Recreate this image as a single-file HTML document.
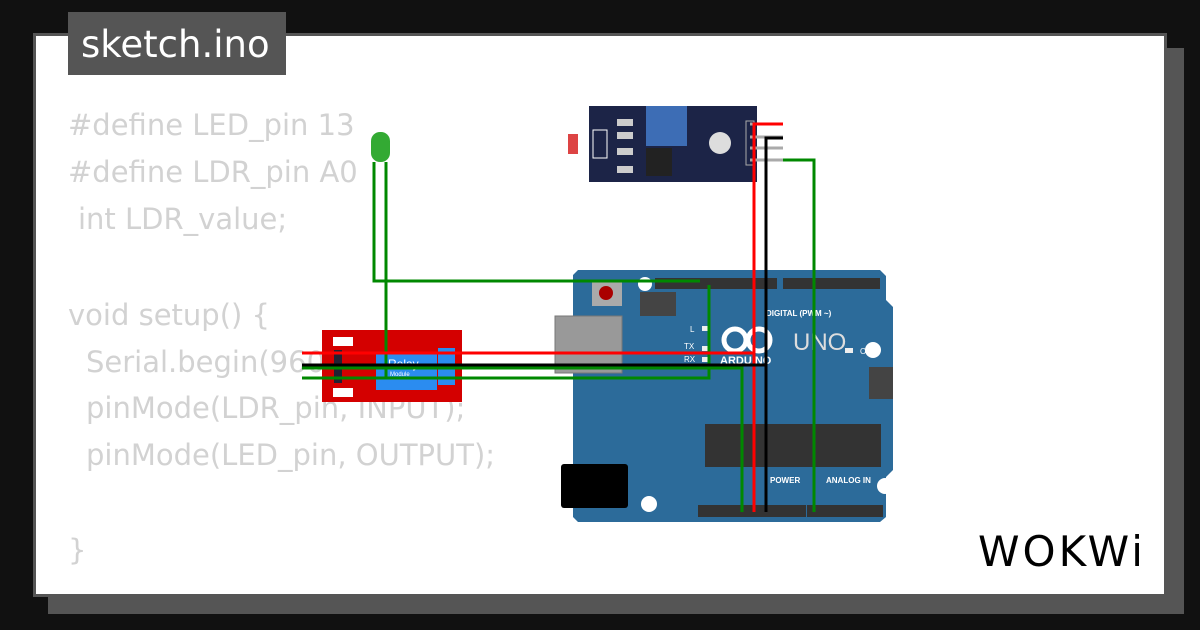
<!DOCTYPE html>
<html><head><meta charset="utf-8"><style>
html,body{margin:0;padding:0;background:#111;width:1200px;height:630px;overflow:hidden;font-family:"Liberation Sans","DejaVu Sans",sans-serif}
</style></head><body>
<svg width="1200" height="630" viewBox="0 0 1200 630" xmlns="http://www.w3.org/2000/svg" font-family="Liberation Sans, DejaVu Sans, sans-serif">
<rect x="0" y="0" width="1200" height="630" fill="#111"/>
<rect x="48" y="48" width="1136" height="566" fill="#555"/>
<rect x="33" y="33" width="1134" height="564" fill="#555"/>
<rect x="36" y="36" width="1128" height="558" fill="#fff"/>
<rect x="68" y="12" width="218" height="63" fill="#555"/>
<text x="81" y="57" font-size="37" fill="#fff" font-family="DejaVu Sans, sans-serif">sketch.ino</text>
<g font-size="29" fill="#d2d2d2" font-family="DejaVu Sans, sans-serif">
<text x="68" y="135">#define LED_pin 13</text>
<text x="68" y="182">#define LDR_pin A0</text>
<text x="78" y="229">int LDR_value;</text>
<text x="68" y="325">void setup() {</text>
<text x="86" y="372">Serial.begin(9600);</text>
<text x="86" y="418">pinMode(LDR_pin, INPUT);</text>
<text x="86" y="465">pinMode(LED_pin, OUTPUT);</text>
<text x="68" y="560">}</text>
</g>
<!-- Arduino -->
<path d="M578 270 H880 L886 276 V300 L893 307 V470 L886 477 V517 L880 522 H578 L573 517 V275 Z" fill="#2c6b9a"/>
<rect x="555" y="316" width="67" height="57" fill="#999" stroke="#777"/>
<rect x="592" y="280" width="30" height="26" fill="#aaa"/>
<circle cx="606" cy="293" r="7" fill="#a00"/>
<circle cx="645" cy="284" r="7" fill="#fff"/>
<circle cx="873" cy="350" r="8" fill="#fff"/>
<circle cx="885" cy="486" r="8" fill="#fff"/>
<circle cx="649" cy="504" r="8" fill="#fff"/>
<rect x="561" y="464" width="67" height="44" rx="3" fill="#000"/>
<rect x="655" y="278" width="122" height="11" fill="#333"/>
<rect x="783" y="278" width="97" height="11" fill="#333"/>
<rect x="698" y="505" width="108" height="12" fill="#333"/>
<rect x="807" y="505" width="76" height="12" fill="#333"/>
<rect x="640" y="292" width="36" height="24" fill="#444"/>
<rect x="869" y="367" width="24" height="32" fill="#444"/>
<rect x="705" y="424" width="176" height="43" fill="#333"/>
<g fill="#fff" font-size="8">
<text x="766" y="316" font-weight="bold">DIGITAL (PWM ~)</text>
<text x="684" y="349">TX</text><text x="684" y="362">RX</text><text x="690" y="332">L</text>
<text x="720" y="364" font-size="11" font-weight="bold">ARDUINO</text>
<text x="793" y="350" font-size="24" fill="#ddd">UNO</text>
<text x="860" y="354">ON</text>
<text x="770" y="483" font-weight="bold">POWER</text>
<text x="826" y="483" font-weight="bold">ANALOG IN</text>
</g>
<circle cx="735" cy="340" r="11" fill="none" stroke="#fff" stroke-width="5"/>
<circle cx="759" cy="340" r="11" fill="none" stroke="#fff" stroke-width="5"/>
<rect x="702" y="326" width="8" height="5" fill="#eee"/><rect x="702" y="346" width="8" height="5" fill="#eee"/><rect x="702" y="357" width="8" height="5" fill="#eee"/><rect x="845" y="348" width="8" height="5" fill="#eee"/>
<!-- Relay -->
<rect x="322" y="330" width="140" height="72" fill="#d40000"/>
<rect x="376" y="352" width="61" height="38" fill="#2b8cf0"/>
<rect x="438" y="348" width="17" height="37" fill="#2b8cf0"/>
<rect x="333" y="337" width="20" height="9" fill="#fff"/>
<rect x="333" y="388" width="20" height="9" fill="#fff"/>
<rect x="334" y="350" width="8" height="33" fill="#223"/>
<text x="388" y="368" font-size="12" fill="#fff">Relay</text>
<text x="390" y="376" font-size="6" fill="#fff">Module</text>
<!-- LDR module -->
<rect x="589" y="106" width="168" height="76" fill="#1c2447"/>
<rect x="646" y="106" width="41" height="40" fill="#3d6db5"/>
<rect x="646" y="148" width="26" height="28" fill="#222"/>
<circle cx="720" cy="143" r="11" fill="#ddd"/>
<rect x="568" y="134" width="10" height="20" fill="#d44"/>
<rect x="593" y="130" width="14" height="28" fill="none" stroke="#fff"/>
<rect x="617" y="119" width="16" height="7" fill="#ccc"/><rect x="617" y="132" width="16" height="7" fill="#ccc"/><rect x="617" y="148" width="16" height="7" fill="#ccc"/><rect x="617" y="166" width="16" height="7" fill="#ccc"/>
<rect x="746" y="121" width="8" height="44" fill="none" stroke="#aaa"/>
<g stroke="#aaa" stroke-width="3"><line x1="750" y1="124" x2="783" y2="124"/><line x1="750" y1="137" x2="783" y2="137"/><line x1="750" y1="148" x2="783" y2="148"/><line x1="750" y1="160" x2="783" y2="160"/></g>
<!-- LED -->
<rect x="371" y="132" width="19" height="30" rx="9" fill="#3a3"/>
<!-- wires -->
<g fill="none" stroke-width="3">
<path d="M374 162 V281 H700" stroke="#080"/>
<path d="M386 162 V378" stroke="#080"/>
<path d="M302 378 H709 V285" stroke="#080"/>
<path d="M302 368 H742 V512" stroke="#080"/>
<path d="M302 353 H754" stroke="#f00"/>
<path d="M783 124 H754 V512" stroke="#f00"/>
<path d="M302 365 H766" stroke="#000"/>
<path d="M783 138 H766 V512" stroke="#000"/>
<path d="M783 160 H814 V512" stroke="#080"/>
</g>
<text x="978" y="566" font-size="42" fill="#000" font-family="DejaVu Sans, sans-serif" letter-spacing="3">WOKWi</text>
</svg>
</body></html>
